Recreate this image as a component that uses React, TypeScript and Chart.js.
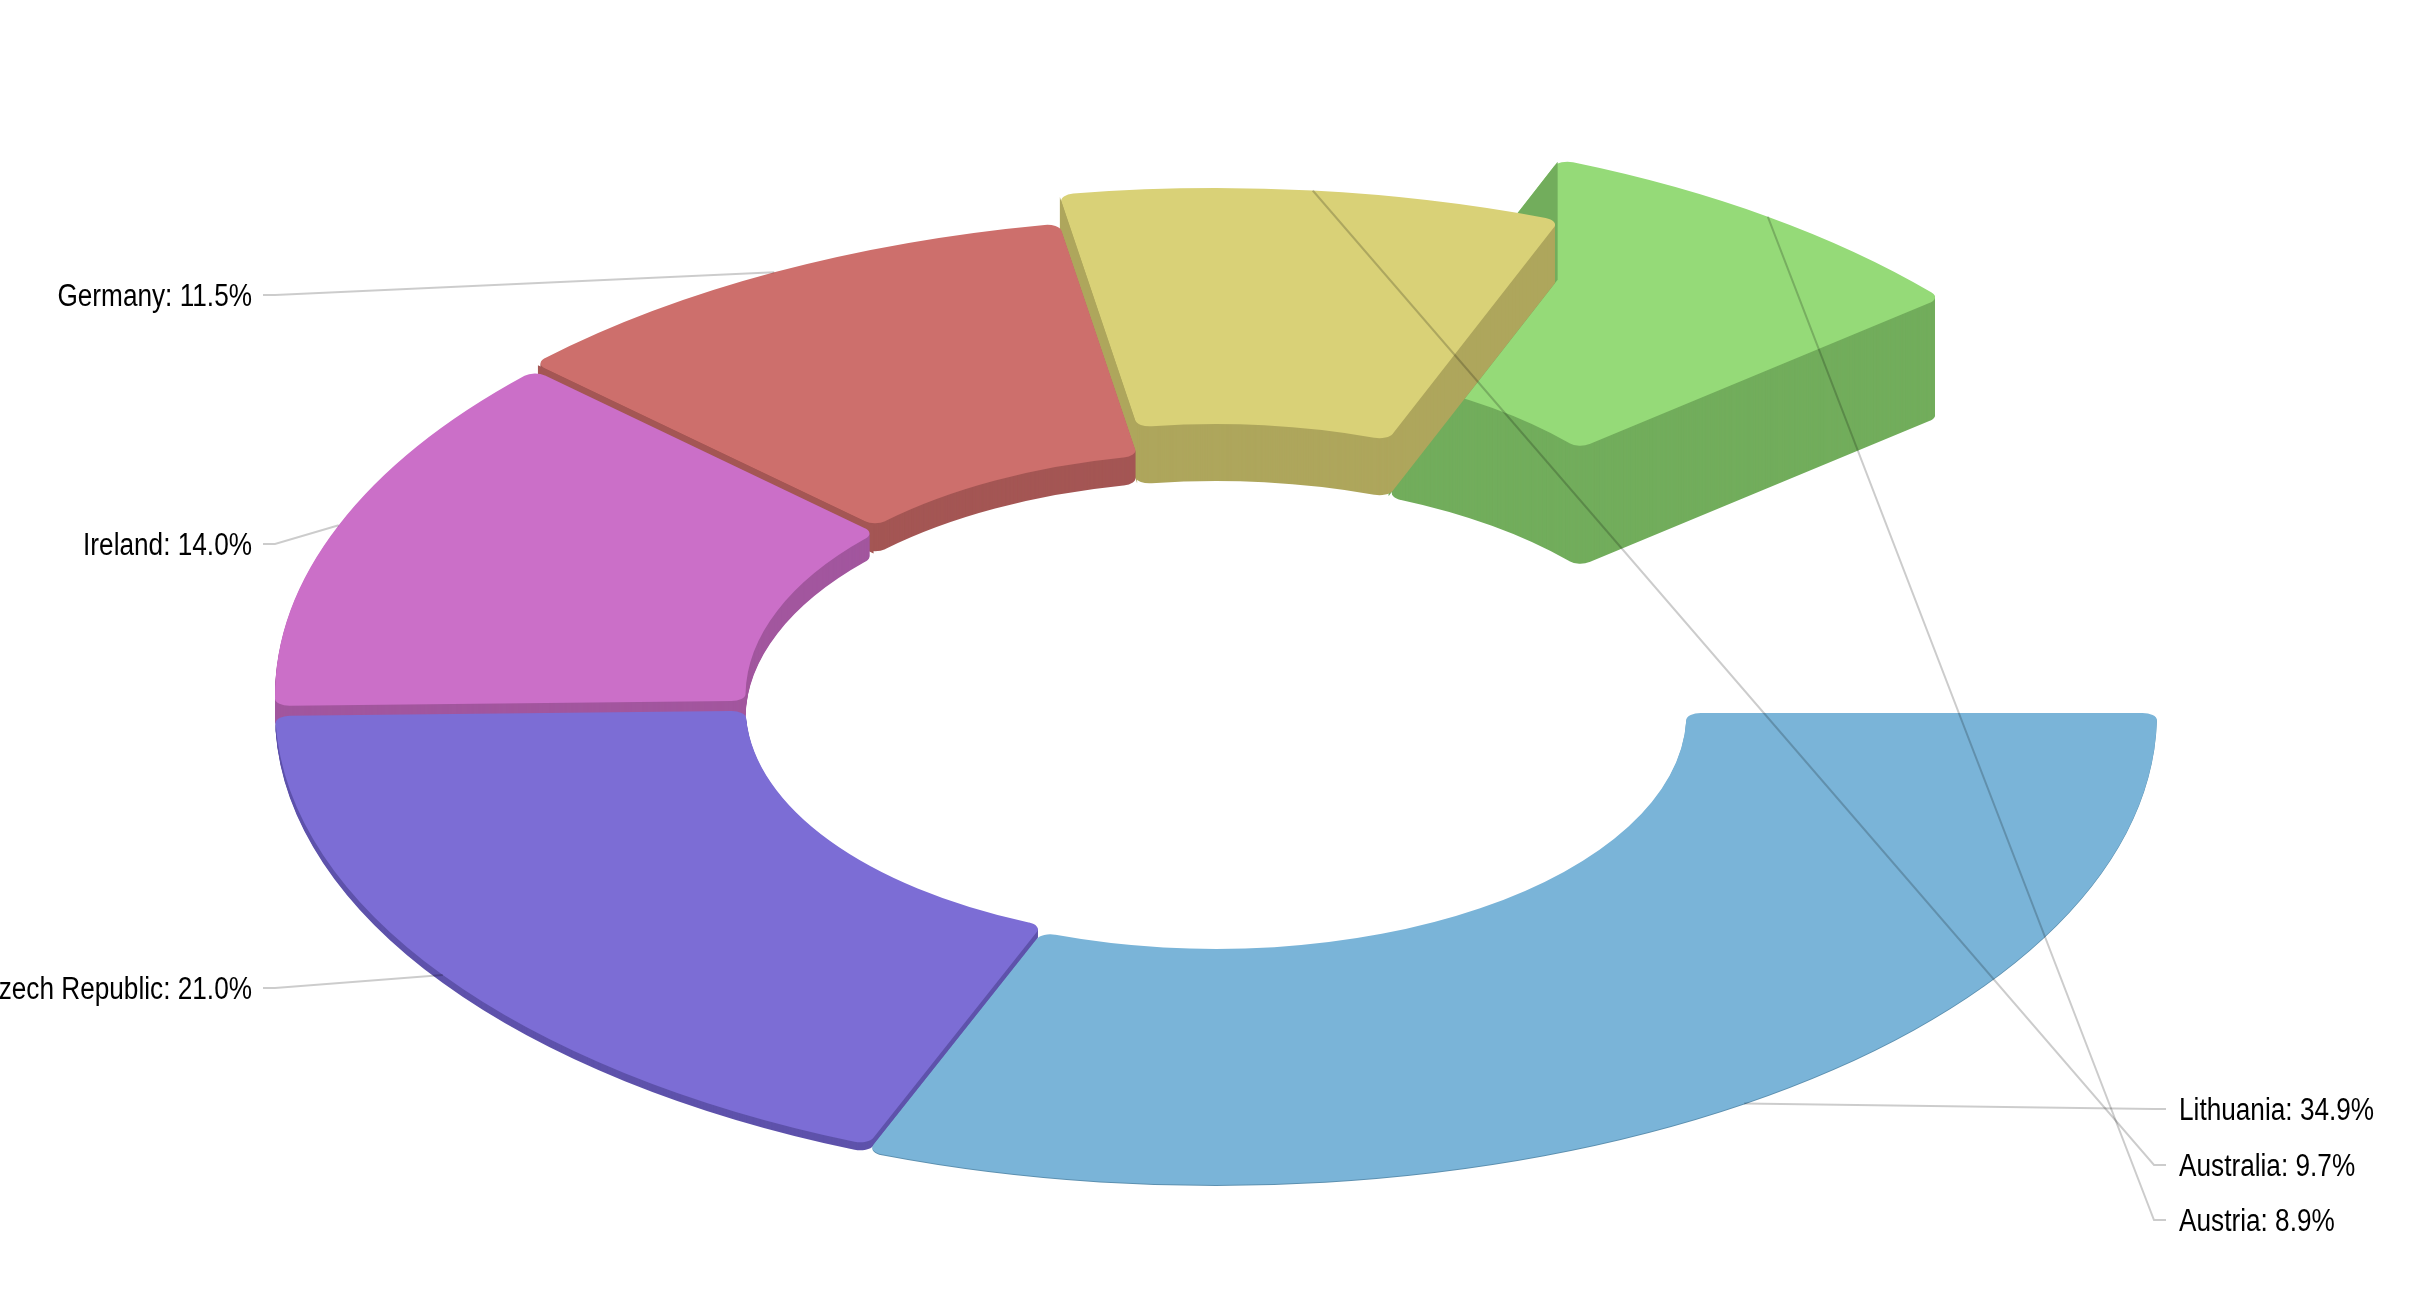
import React, { useEffect, useRef } from 'react';
import Chart from 'chart.js/auto';

// slices, clockwise from 3 o'clock
const categories = ['Lithuania', 'Czech Republic', 'Ireland', 'Germany', 'Australia', 'Austria'];
const percentLabels = ['34.9%', '21.0%', '14.0%', '11.5%', '9.7%', '8.9%'];
// sweep of each slice as drawn in the picture (degrees)
const sliceSweeps = [111.7, 67.1, 44.8, 36.8, 31, 29];
// how far each slice is lifted above the base ring (px)
const sliceLifts = [1, 8, 23, 28, 57, 118];
// the back of the ring sits a little lower in the picture (px)
const sliceDrops = [0, 0, 5, 3, 3, 3];

const topColors = ['#7ab4d8', '#7c6dd5', '#cb6fc8', '#cd6f6c', '#d9d177', '#95da78'];
const wallColors = ['#5c90b0', '#5e52ab', '#a2569e', '#a45654', '#aea65c', '#72ad5c'];

// label placement per slice
const labelSides = ['right', 'left', 'left', 'left', 'right', 'right'];
const labelYs = [1109, 988, 544, 295, 1165, 1220];

// ring projection
const CENTER_X = 1216;
const CENTER_Y = 714;
const RADIUS_X = 941;
const RADIUS_Y = 472;

const ringPlugin = {
  id: 'ring3d',
  beforeDatasetsDraw(chart: any) {
    const ctx = chart.ctx;
    const arcs = chart.getDatasetMeta(0).data;

    const project = (arc: any, y: number) => {
      ctx.translate(CENTER_X, CENTER_Y + y);
      ctx.scale(RADIUS_X / arc.outerRadius, RADIUS_Y / arc.outerRadius);
      ctx.translate(-arc.x, -arc.y);
    };

    // back slices first, Lithuania ends up on top
    for (let i = arcs.length - 1; i >= 0; i--) {
      const arc = arcs[i];
      const lift = sliceLifts[i];
      const drop = sliceDrops[i];
      const original = arc.options;

      arc.options = { ...original, backgroundColor: wallColors[i] };
      for (let k = 0; k < lift; k++) {
        ctx.save();
        project(arc, drop - k);
        arc.draw(ctx);
        ctx.restore();
      }

      arc.options = original;
      ctx.save();
      project(arc, drop - lift);
      arc.draw(ctx);
      ctx.restore();

      // side face of the starting edge goes over the top face
      const cos = Math.cos(arc.startAngle);
      const sin = Math.sin(arc.startAngle);
      if (sin < -0.01) {
        const outer = 0.995;
        const inner = (arc.innerRadius / arc.outerRadius) * 1.005;
        const baseY = CENTER_Y + drop;
        ctx.save();
        ctx.fillStyle = wallColors[i];
        ctx.beginPath();
        ctx.moveTo(CENTER_X + cos * outer * RADIUS_X, baseY + sin * outer * RADIUS_Y - lift);
        ctx.lineTo(CENTER_X + cos * inner * RADIUS_X, baseY + sin * inner * RADIUS_Y - lift);
        ctx.lineTo(CENTER_X + cos * inner * RADIUS_X, baseY + sin * inner * RADIUS_Y);
        ctx.lineTo(CENTER_X + cos * outer * RADIUS_X, baseY + sin * outer * RADIUS_Y);
        ctx.closePath();
        ctx.fill();
        ctx.restore();
      }
    }
    return false;
  },
  afterDraw(chart: any) {
    const ctx = chart.ctx;
    const arcs = chart.getDatasetMeta(0).data;

    ctx.save();
    arcs.forEach((arc: any, i: number) => {
      const mid = (arc.startAngle + arc.endAngle) / 2;
      const isRight = labelSides[i] === 'right';
      const startX = CENTER_X + Math.cos(mid) * RADIUS_X;
      const startY = CENTER_Y + sliceDrops[i] + Math.sin(mid) * RADIUS_Y - sliceLifts[i];

      ctx.strokeStyle = 'rgba(0, 0, 0, 0.2)';
      ctx.lineWidth = 2;
      ctx.beginPath();
      ctx.moveTo(startX, startY);
      ctx.lineTo(isRight ? 2154 : 275, labelYs[i]);
      ctx.lineTo(isRight ? 2166 : 263, labelYs[i]);
      ctx.stroke();

      // narrow look: same face, squeezed through fillText's maxWidth
      const text = `${categories[i]}: ${percentLabels[i]}`;
      ctx.fillStyle = '#000000';
      ctx.font = '31px "Liberation Sans"';
      ctx.textBaseline = 'middle';
      ctx.textAlign = isRight ? 'left' : 'right';
      const width = ctx.measureText(text).width * 0.845;
      ctx.fillText(text, isRight ? 2179 : 252, labelYs[i] + 2, width);
    });
    ctx.restore();
  },
};

const App: React.FC = () => {
  const chartRef = useRef<HTMLCanvasElement>(null);

  useEffect(() => {
    if (!chartRef.current) return;

    const chart = new Chart(chartRef.current, {
      type: 'doughnut',
      data: {
        labels: categories,
        datasets: [
          {
            data: sliceSweeps,
            backgroundColor: topColors,
            borderWidth: 0,
            borderRadius: 10,
          },
        ],
      },
      options: {
        responsive: false,
        devicePixelRatio: 1,
        animation: false,
        rotation: 90,
        circumference: sliceSweeps.reduce((a, b) => a + b, 0),
        cutout: '50%',
        plugins: {
          legend: { display: false },
          tooltip: { enabled: false },
        },
      },
      plugins: [ringPlugin],
    } as any);

    return () => {
      chart.destroy();
    };
  }, []);

  return (
    <div style={{ position: 'fixed', left: 0, top: 0, width: 2426, height: 1304, background: '#ffffff' }}>
      <canvas ref={chartRef} width={2426} height={1304} style={{ display: 'block' }} />
    </div>
  );
};

export default App;
